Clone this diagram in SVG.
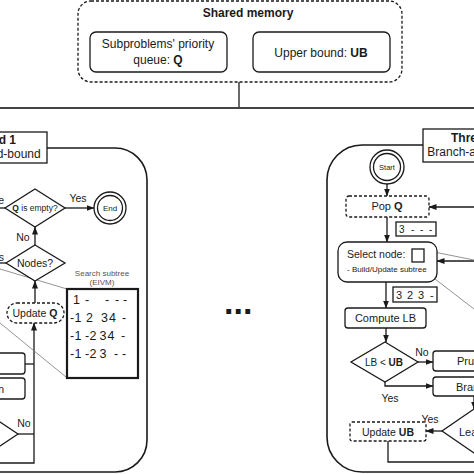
<svg xmlns="http://www.w3.org/2000/svg" width="474" height="474" viewBox="0 0 474 474">
<style>
text{font-family:"Liberation Sans",Arial,sans-serif;fill:#1a1a1a}
.b{font-weight:bold}
.m{text-anchor:middle}
.box{fill:#fff;stroke:#1a1a1a;stroke-width:1.3}
.dash{fill:#fff;stroke:#1a1a1a;stroke-width:1.3;stroke-dasharray:3 2}
.ln{fill:none;stroke:#1a1a1a;stroke-width:1.3}
.arr{fill:none;stroke:#1a1a1a;stroke-width:1.3;marker-end:url(#ah)}
.grey{fill:none;stroke:#777;stroke-width:0.8}
.panel{fill:none;stroke:#1a1a1a;stroke-width:1.6}
.t12{font-size:12px}.t11{font-size:11px}.t10{font-size:10.5px}.t9{font-size:9px}.t8{font-size:8px}
</style>
<defs>
<marker id="ah" markerUnits="userSpaceOnUse" markerWidth="8" markerHeight="6" refX="7.5" refY="3" orient="auto">
<path d="M0,0 L8,3 L0,6 z" fill="#1a1a1a"/>
</marker>
</defs>
<rect width="474" height="474" fill="#fff"/>

<g id="shared-memory">
<rect x="78" y="1" width="324" height="81" rx="13" class="dash"/>
<text x="248" y="17" class="t12 b m">Shared memory</text>
</g>
<g id="priority-queue">
<rect x="90" y="32" width="137" height="40" rx="6" class="box"/>
<text x="158" y="48" class="t12 m">Subproblems' priority</text>
<text x="158" y="64" class="t12 m">queue: <tspan class="b">Q</tspan></text>
</g>
<g id="upper-bound">
<rect x="253" y="32" width="137" height="40" rx="6" class="box"/>
<text x="321" y="57" class="t12 m">Upper bound: <tspan class="b">UB</tspan></text>
</g>

<g id="panels">
<rect x="-200" y="148" width="347" height="324" rx="32" class="panel"/>
<rect x="327" y="145" width="300" height="327" rx="35" class="panel"/>
</g>

<g id="connectors">
<line x1="239" y1="82" x2="239" y2="108" class="ln"/>
<line x1="0" y1="108" x2="474" y2="108" stroke="#444" stroke-width="2"/>
<!-- right thread -->
<line x1="387" y1="184" x2="387" y2="196" class="arr"/>
<line x1="474" y1="207" x2="429" y2="207" class="arr"/>
<line x1="387" y1="217" x2="387" y2="242" class="arr"/>
<line x1="474" y1="261" x2="437" y2="261" class="arr"/>
<line x1="386" y1="282" x2="386" y2="308" class="arr"/>
<line x1="386" y1="328" x2="386" y2="342" class="arr"/>
<line x1="418" y1="362" x2="433" y2="362" class="arr"/>
<polyline points="385,382 385,386 433,386" class="arr"/>
<line x1="474" y1="396" x2="474" y2="409" class="arr"/>
<line x1="442" y1="431" x2="426" y2="431" class="arr"/>
<polyline points="388,441 388,462 474,462" class="ln"/>
<line x1="424" y1="250" x2="474" y2="260" class="grey"/>
<line x1="413" y1="262" x2="474" y2="309" class="grey"/>
<!-- left thread -->
<line x1="0" y1="208" x2="5" y2="208" class="ln"/>
<line x1="65" y1="208" x2="94" y2="208" class="arr"/>
<line x1="35" y1="245" x2="35" y2="227" class="arr"/>
<line x1="0" y1="263" x2="6" y2="263" class="ln"/>
<line x1="35" y1="303" x2="35" y2="281" class="arr"/>
<polyline points="0,463 34,463 34,323" class="arr"/>
<line x1="25" y1="364" x2="34" y2="364" class="ln"/>
<line x1="18" y1="434" x2="34" y2="434" class="ln"/>
<line x1="0" y1="269" x2="67" y2="289" class="grey"/>
<line x1="0" y1="323" x2="66" y2="377" class="grey"/>
<text x="78" y="202" class="t10 m">Yes</text>
<text x="23" y="241" class="t10 m">No</text>
<text x="24" y="427" class="t10 m">No</text>
<text x="4" y="204" class="t10" text-anchor="end">e</text>
<text x="4" y="261" class="t10" text-anchor="end">s</text>
<text x="422" y="356" class="t10 m">No</text>
<text x="390" y="402" class="t10 m">Yes</text>
<text x="430" y="423" class="t10 m">Yes</text>
</g>

<g id="label-thread1">
<rect x="-65" y="132" width="112" height="31" class="box"/>
<text x="-9" y="144" class="t12 b m">Thread 1</text>
<text x="-9" y="158" class="t12 m">Branch-and-bound</text>
</g>
<g id="label-threadN">
<rect x="423" y="129" width="110" height="33" class="box"/>
<text x="477" y="142" class="t12 b m">Thread N</text>
<text x="477" y="156" class="t12 m">Branch-and-bound</text>
</g>

<g id="start">
<circle cx="387" cy="167" r="17" class="box"/>
<circle cx="387" cy="167" r="13.5" class="box"/>
<text x="387" y="169.5" class="m" font-size="7.5">Start</text>
</g>
<g id="pop-q">
<rect x="346" y="196" width="83" height="21" rx="3" class="dash"/>
<text x="387" y="210" class="t11 m">Pop <tspan class="b">Q</tspan></text>
</g>
<g id="state-1">
<rect x="396" y="222" width="40" height="14" class="box"/>
<text x="399 411 420 429" y="233" font-size="10">3---</text>
</g>
<g id="select-node">
<rect x="338" y="242" width="99" height="40" rx="9" class="box"/>
<text x="347" y="258" class="t10">Select node:</text>
<text x="347" y="272" class="t8">- Build/Update subtree</text>
<rect x="412" y="249" width="12" height="13" class="box"/>
</g>
<g id="state-2">
<rect x="393" y="287" width="44" height="15" class="box"/>
<text x="396 407 418 430" y="299" class="t11">323-</text>
</g>
<g id="compute-lb">
<rect x="345" y="308" width="81" height="20" rx="3" class="box"/>
<text x="385.5" y="322" class="t11 m">Compute LB</text>
</g>
<g id="lb-ub">
<polygon points="385,342 418,362 385,382 351,362" class="box"/>
<text x="384" y="366" class="m" font-size="10">LB &lt; <tspan class="b">UB</tspan></text>
</g>
<g id="prune">
<rect x="433" y="351" width="80" height="20" rx="3" class="box"/>
<text x="457" y="365" class="t11">Prune</text>
</g>
<g id="branch">
<rect x="433" y="377" width="80" height="19" rx="3" class="box"/>
<text x="456" y="391" class="t11">Branch</text>
</g>
<g id="leaf">
<polygon points="474,409 506,431 474,453 442,431" class="box"/>
<text x="459" y="436" class="t11">Leaf?</text>
</g>
<g id="update-ub">
<rect x="350" y="422" width="76" height="19" rx="2" class="dash"/>
<text x="388" y="436" class="t10 m">Update <tspan class="b">UB</tspan></text>
</g>

<g id="q-empty">
<polygon points="35,189 65,208 35,227 5,208" class="box"/>
<text x="35" y="211" class="m" font-size="8.5"><tspan class="b">Q</tspan> is empty?</text>
</g>
<g id="end">
<circle cx="110" cy="208" r="16" class="box"/>
<circle cx="110" cy="208" r="12.5" class="box"/>
<text x="110" y="211" class="t8 m">End</text>
</g>
<g id="nodes">
<polygon points="35,245 65,263 35,281 6,263" class="box"/>
<text x="35" y="267" class="t10 m">Nodes?</text>
</g>
<g id="update-q">
<rect x="7" y="303" width="57" height="20" rx="10" class="dash"/>
<text x="35" y="317" class="t10 m">Update <tspan class="b">Q</tspan></text>
</g>
<g id="left-box-1">
<rect x="-60" y="353" width="85" height="21" rx="3" class="box"/>
</g>
<g id="left-box-2">
<rect x="-60" y="378" width="85" height="21" rx="3" class="box"/>
<text x="4" y="393" class="t11" text-anchor="end">n</text>
</g>
<g id="left-diamond">
<polygon points="-15,412 18,434 -15,456 -48,434" class="box"/>
</g>

<g id="search-subtree">
<text x="102" y="276" class="t8 m" fill="#555" style="fill:#555">Search subtree</text>
<text x="102" y="285" class="t8 m" style="fill:#555">(EIVM)</text>
<rect x="67" y="289" width="71" height="89" fill="#fff" stroke="#1a1a1a" stroke-width="2.2"/>
<text x="73 85 105 115 123" y="304" font-size="12.5">1----</text>
<text x="70 74.5 86 101 109 122" y="322" font-size="12.5">-1234-</text>
<text x="70 74.5 85 89.5 99.5 107.5 121" y="340" font-size="12.5">-1-234-</text>
<text x="70 74.5 85 89.5 99.5 114 122" y="358" font-size="12.5">-1-23--</text>
</g>

<g id="ellipsis">
<text x="224" y="313.5" class="b" font-size="34">...</text>
</g>
</svg>
